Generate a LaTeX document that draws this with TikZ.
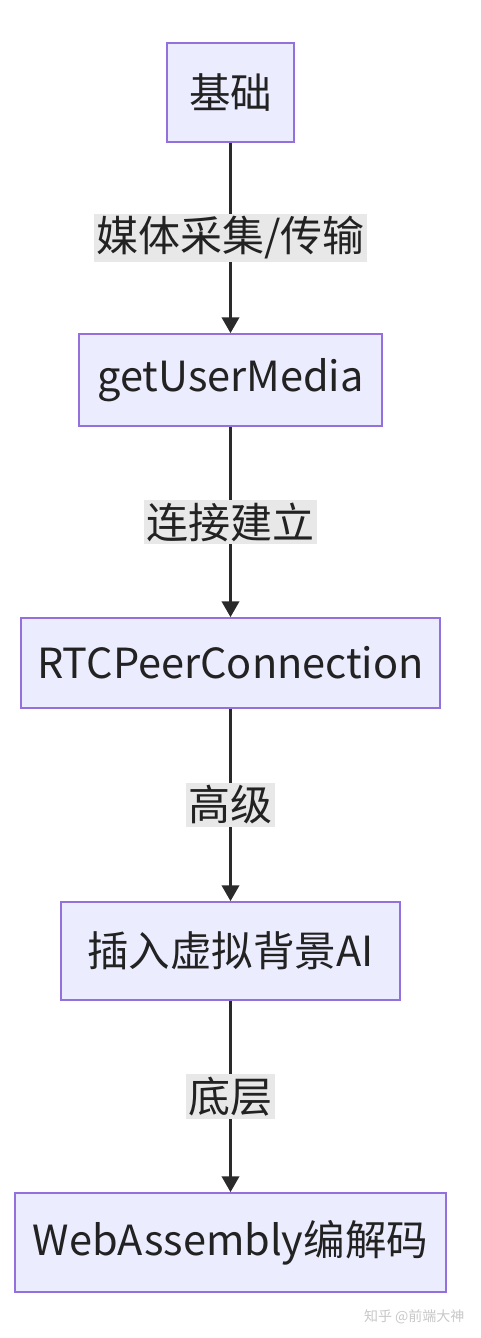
\documentclass[tikz,border=0pt]{standalone}
\usepackage{fontspec}
\setmainfont{Noto Sans CJK SC}
\usetikzlibrary{arrows.meta}
\definecolor{boxfill}{HTML}{ECECFF}
\definecolor{boxdraw}{HTML}{9370DB}
\definecolor{txt}{HTML}{222222}
\definecolor{lblbg}{HTML}{E8E8E8}
\definecolor{edgec}{HTML}{2A2A2A}
\definecolor{wm}{HTML}{C8C8C8}
\begin{document}
\begin{tikzpicture}[x=1pt,y=-1pt,
  box/.style={draw=boxdraw,fill=boxfill,line width=1.5pt,inner sep=0pt,text=txt,font=\fontsize{41.5}{44}\selectfont},
  lbl/.style={fill=lblbg,inner sep=2.5pt,text=txt,font=\fontsize{42}{44}\selectfont},
  edge/.style={draw=edgec,line width=3.8pt,-{Triangle[width=17pt,length=16pt]}}]
\useasboundingbox (0,0) rectangle (480,1338);
\fill[white] (0,0) rectangle (480,1338);
\node[box,minimum width=127pt,minimum height=99pt] (b1) at (230.5,92.5) {基础};
\node[box,minimum width=303pt,minimum height=92pt] (b2) at (230.5,380) {getUserMedia};
\node[box,minimum width=419pt,minimum height=90pt] (b3) at (230.5,663) {RTCPeerConnection};
\node[box,minimum width=339pt,minimum height=98pt] (b4) at (230.5,951) {插入虚拟背景AI};
\node[box,minimum width=431pt,minimum height=99pt] (b5) at (230.5,1242.5) {WebAssembly编解码};
\draw[edge] (b1) -- node[lbl]{媒体采集/传输} (b2);
\draw[edge] (b2) -- node[lbl]{连接建立} (b3);
\draw[edge] (b3) -- node[lbl]{高级} (b4);
\draw[edge] (b4) -- node[lbl]{底层} (b5);
\node[text=wm,font=\fontsize{14}{16}\selectfont,anchor=east] (wmk) at (468,1317) {知乎 @前端大神};
\end{tikzpicture}
\end{document}
